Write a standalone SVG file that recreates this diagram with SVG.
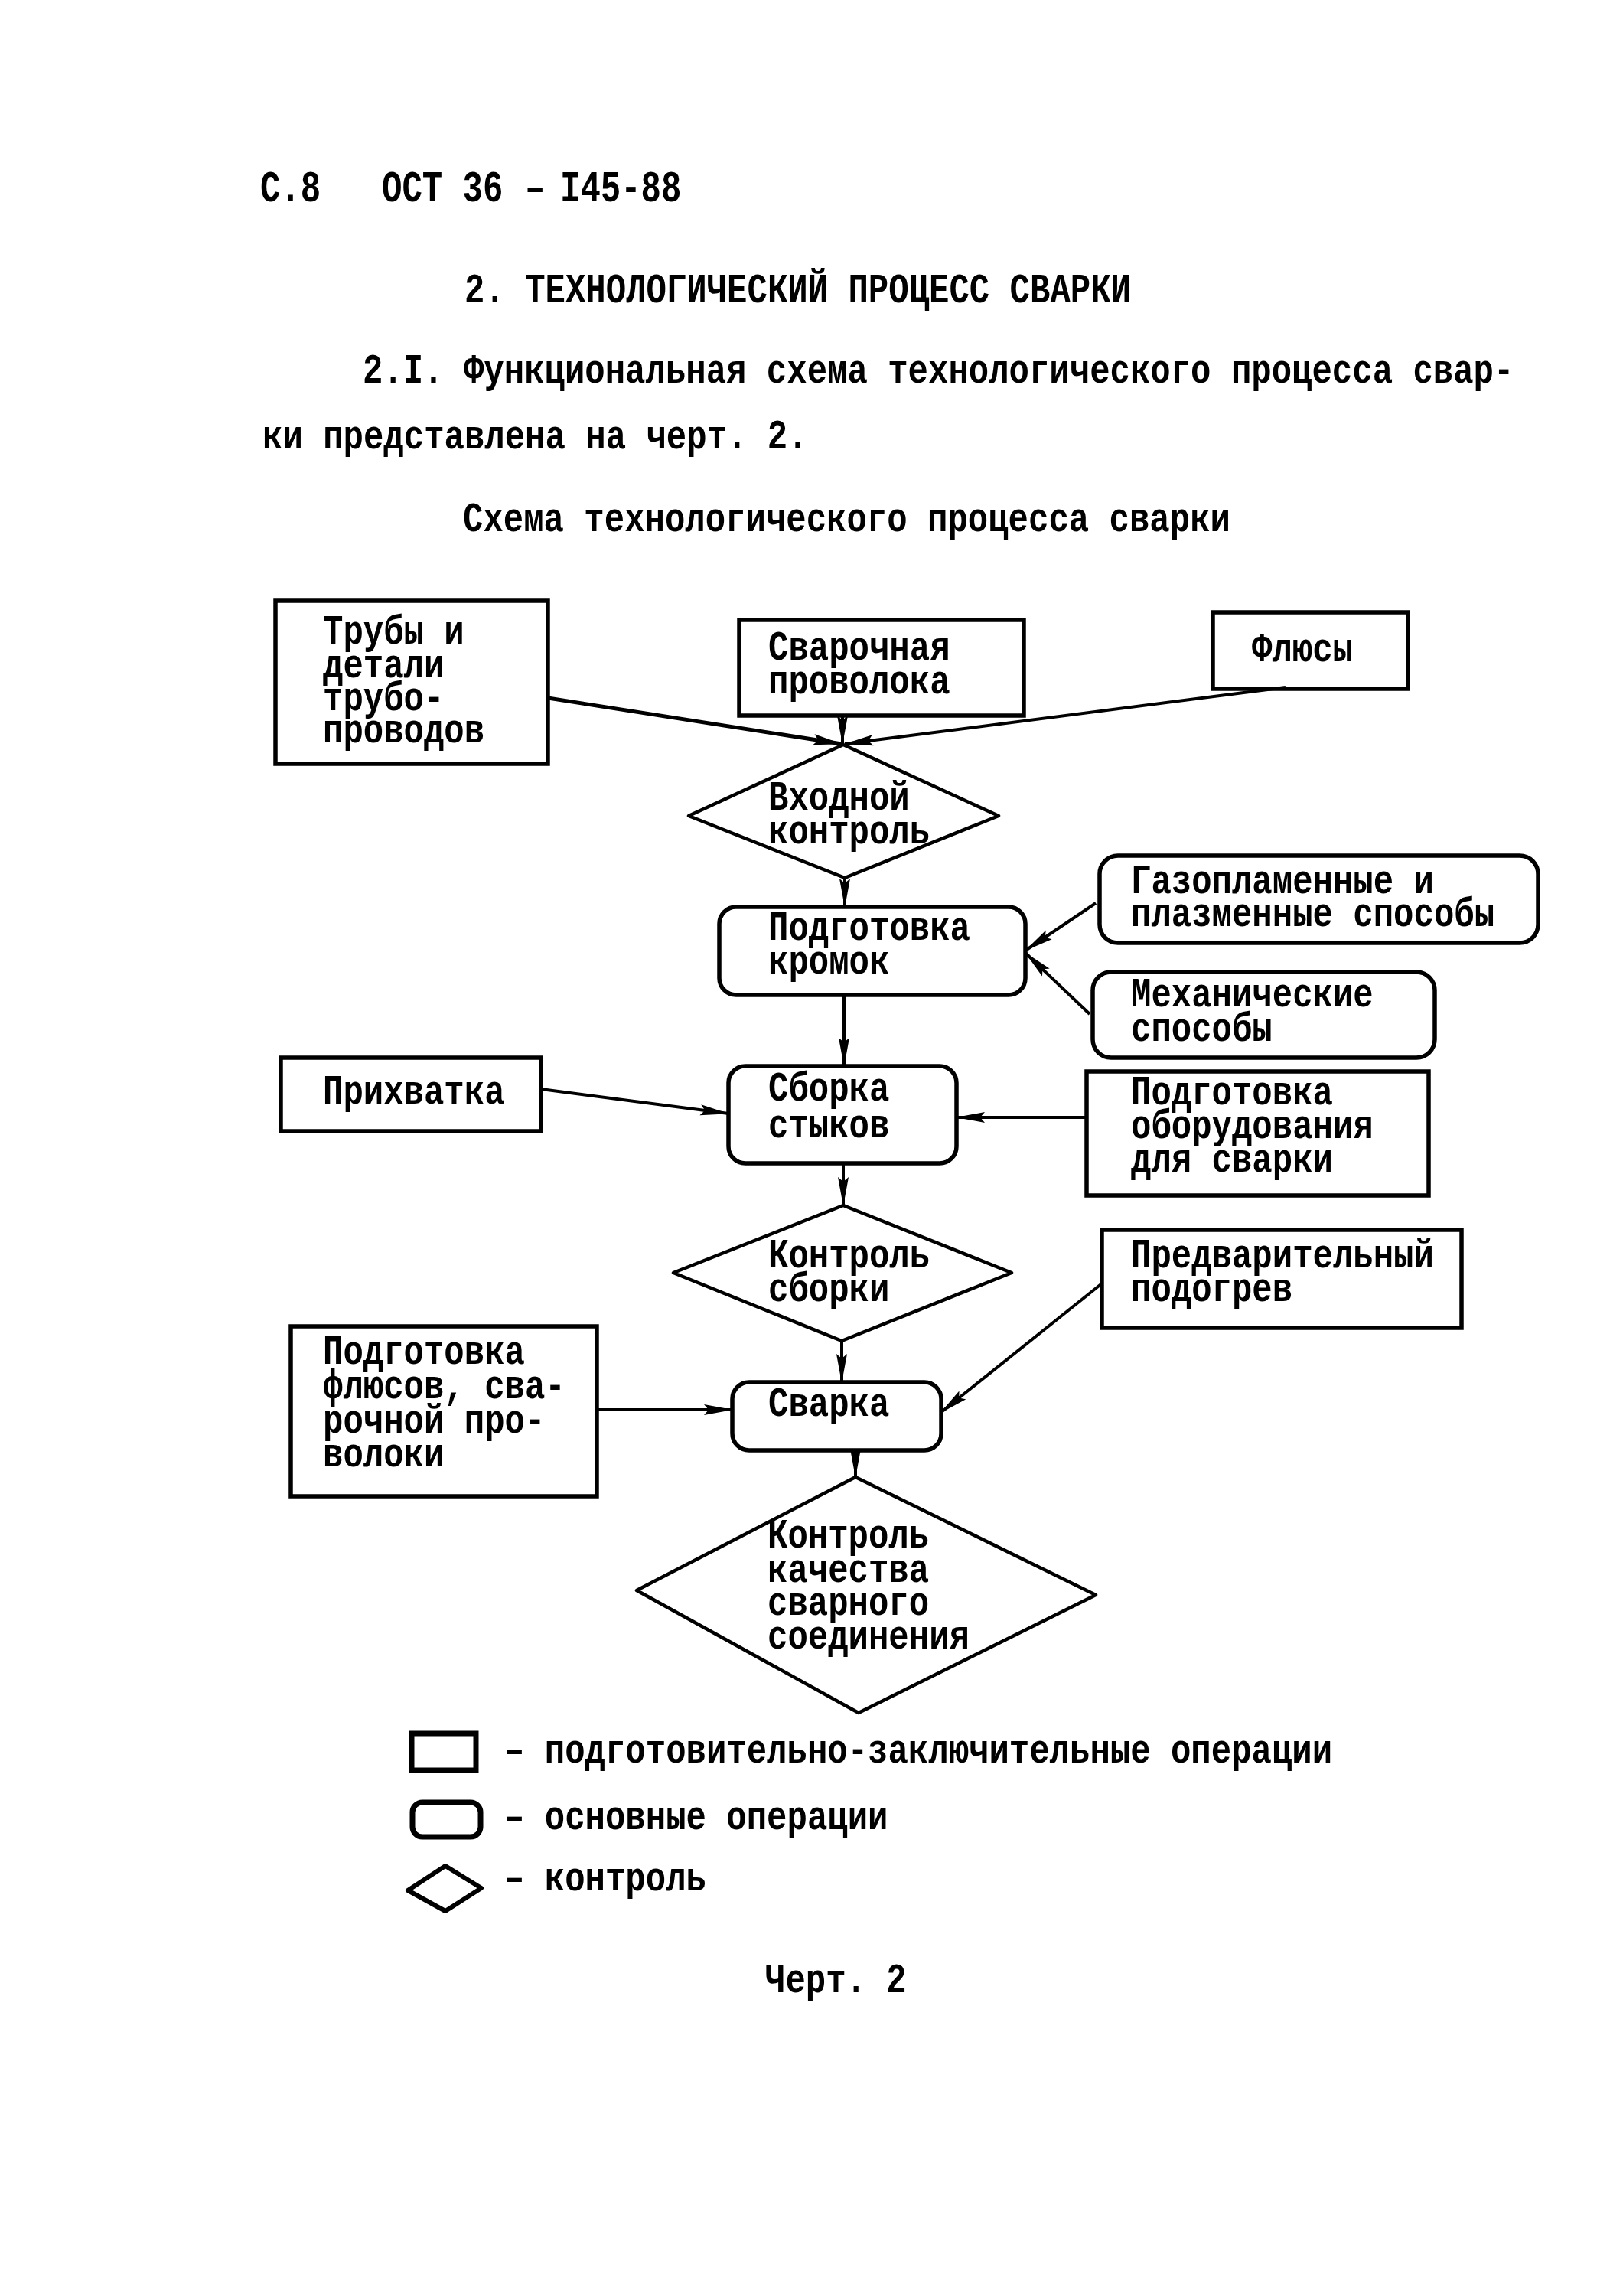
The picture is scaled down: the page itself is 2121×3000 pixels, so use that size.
<svg xmlns="http://www.w3.org/2000/svg" width="2121" height="3000" viewBox="0 0 2121 3000">
<style>
.t{font-family:"Liberation Mono","DejaVu Sans Mono",monospace;font-size:44px;font-weight:bold;fill:#000}
.box{fill:#fff;stroke:#000;stroke-width:5.5}
.dia{fill:#fff;stroke:#000;stroke-width:4.5;stroke-linejoin:round}
.con{stroke:#000;stroke-width:4;fill:none;marker-end:url(#ah)}
</style>
<defs>
<marker id="ah" markerUnits="userSpaceOnUse" markerWidth="38" markerHeight="16" refX="37" refY="8" orient="auto">
<path d="M0,1 L38,8 L0,15 L6,8 z" fill="#000"/>
</marker>
</defs>
<rect width="2121" height="3000" fill="#fff"/>

<g id="page-text">
<text class="t" transform="translate(340,263) scale(1,1.3)">С.8</text>
<text class="t" transform="translate(499,263) scale(1,1.3)">ОСТ 36</text>
<text class="t" transform="translate(686,263) scale(1,1.3)">–</text>
<text class="t" transform="translate(732,263) scale(1,1.3)">I45-88</text>
<text class="t" transform="translate(607,395) scale(1,1.2)">2. ТЕХНОЛОГИЧЕСКИЙ ПРОЦЕСС СВАРКИ</text>
<text class="t" transform="translate(474,500) scale(1,1.2)">2.I. Функциональная схема технологического процесса свар-</text>
<text class="t" transform="translate(343,586) scale(1,1.2)">ки представлена на черт. 2.</text>
<text class="t" transform="translate(605,694) scale(1,1.2)">Схема технологического процесса сварки</text>
<text class="t" transform="translate(1000,2603) scale(1,1.2)">Черт. 2</text>
</g>

<g id="n-truby">
<rect class="box" x="360" y="785" width="356" height="213"/>
<text class="t" transform="translate(422,841) scale(1,1.2)">Трубы и</text>
<text class="t" transform="translate(422,885) scale(1,1.2)">детали</text>
<text class="t" transform="translate(422,928) scale(1,1.2)">трубо-</text>
<text class="t" transform="translate(422,970) scale(1,1.2)">проводов</text>
</g>

<g id="n-provoloka">
<rect class="box" x="966" y="810" width="372" height="125"/>
<text class="t" transform="translate(1004,862) scale(1,1.2)">Сварочная</text>
<text class="t" transform="translate(1004,906) scale(1,1.2)">проволока</text>
</g>

<g id="n-flyusy">
<rect class="box" x="1585" y="800" width="255" height="100"/>
<text class="t" transform="translate(1636,864) scale(1,1.2)">Флюсы</text>
</g>

<g id="n-vhodnoy">
<polygon class="dia" points="1102,973 1305,1066 1104,1147 900,1066"/>
<text class="t" transform="translate(1004,1058) scale(1,1.2)">Входной</text>
<text class="t" transform="translate(1004,1102) scale(1,1.2)">контроль</text>
</g>

<g id="n-kromki">
<rect class="box" x="940" y="1185" width="400" height="115" rx="22"/>
<text class="t" transform="translate(1004,1228) scale(1,1.2)">Подготовка</text>
<text class="t" transform="translate(1004,1272) scale(1,1.2)">кромок</text>
</g>

<g id="n-gaz">
<rect class="box" x="1437" y="1118" width="573" height="114" rx="24"/>
<text class="t" transform="translate(1478,1167) scale(1,1.2)">Газопламенные и</text>
<text class="t" transform="translate(1478,1210) scale(1,1.2)">плазменные способы</text>
</g>

<g id="n-meh">
<rect class="box" x="1428" y="1270" width="447" height="112" rx="24"/>
<text class="t" transform="translate(1478,1315) scale(1,1.2)">Механические</text>
<text class="t" transform="translate(1478,1360) scale(1,1.2)">способы</text>
</g>

<g id="n-prihvatka">
<rect class="box" x="367" y="1382" width="340" height="96"/>
<text class="t" transform="translate(422,1442) scale(1,1.2)">Прихватка</text>
</g>

<g id="n-sborka">
<rect class="box" x="952" y="1393" width="298" height="127" rx="22"/>
<text class="t" transform="translate(1004,1438) scale(1,1.2)">Сборка</text>
<text class="t" transform="translate(1004,1486) scale(1,1.2)">стыков</text>
</g>

<g id="n-oborud">
<rect class="box" x="1420" y="1400" width="447" height="162"/>
<text class="t" transform="translate(1478,1443) scale(1,1.2)">Подготовка</text>
<text class="t" transform="translate(1478,1487) scale(1,1.2)">оборудования</text>
<text class="t" transform="translate(1478,1531) scale(1,1.2)">для сварки</text>
</g>

<g id="n-kontrol-sborki">
<polygon class="dia" points="1102,1575 1322,1663 1100,1752 880,1663"/>
<text class="t" transform="translate(1004,1656) scale(1,1.2)">Контроль</text>
<text class="t" transform="translate(1004,1700) scale(1,1.2)">сборки</text>
</g>

<g id="n-podogrev">
<rect class="box" x="1440" y="1607" width="470" height="128"/>
<text class="t" transform="translate(1478,1656) scale(1,1.2)">Предварительный</text>
<text class="t" transform="translate(1478,1700) scale(1,1.2)">подогрев</text>
</g>

<g id="n-flyusy-prep">
<rect class="box" x="380" y="1733" width="400" height="222"/>
<text class="t" transform="translate(422,1782) scale(1,1.2)">Подготовка</text>
<text class="t" transform="translate(422,1827) scale(1,1.2)">флюсов, сва-</text>
<text class="t" transform="translate(422,1872) scale(1,1.2)">рочной про-</text>
<text class="t" transform="translate(422,1916) scale(1,1.2)">волоки</text>
</g>

<g id="n-svarka">
<rect class="box" x="957" y="1806" width="273" height="89" rx="22"/>
<text class="t" transform="translate(1004,1850) scale(1,1.2)">Сварка</text>
</g>

<g id="n-kontrol-kachestva">
<polygon class="dia" points="1118,1930 1432,2084 1122,2238 832,2078"/>
<text class="t" transform="translate(1003,2022) scale(1,1.2)">Контроль</text>
<text class="t" transform="translate(1003,2067) scale(1,1.2)">качества</text>
<text class="t" transform="translate(1003,2110) scale(1,1.2)">сварного</text>
<text class="t" transform="translate(1003,2154) scale(1,1.2)">соединения</text>
</g>

<g id="legend">
<rect x="538" y="2265" width="84" height="48" fill="#fff" stroke="#000" stroke-width="7"/>
<text class="t" transform="translate(659,2303) scale(1,1.2)">– подготовительно-заключительные операции</text>
<rect x="539" y="2355" width="89" height="45" rx="13" fill="#fff" stroke="#000" stroke-width="7"/>
<text class="t" transform="translate(659,2390) scale(1,1.2)">– основные операции</text>
<polygon points="533,2470 582,2438 629,2467 582,2497" fill="#fff" stroke="#000" stroke-width="6" stroke-linejoin="round"/>
<text class="t" transform="translate(659,2470) scale(1,1.2)">– контроль</text>
</g>

<g id="connectors">
<line class="con" x1="716" y1="912" x2="1100" y2="972" style="stroke-width:5"/>
<line class="con" x1="1101" y1="935" x2="1101" y2="972"/>
<line class="con" x1="1680" y1="898" x2="1104" y2="972"/>
<line class="con" x1="1104" y1="1147" x2="1104" y2="1185"/>
<line class="con" x1="1432" y1="1180" x2="1340" y2="1242"/>
<line class="con" x1="1424" y1="1325" x2="1340" y2="1245"/>
<line class="con" x1="1103" y1="1300" x2="1103" y2="1393"/>
<line class="con" x1="707" y1="1423" x2="952" y2="1455"/>
<line class="con" x1="1420" y1="1460" x2="1250" y2="1460"/>
<line class="con" x1="1102" y1="1520" x2="1102" y2="1575"/>
<line class="con" x1="1100" y1="1752" x2="1100" y2="1806"/>
<line class="con" x1="1440" y1="1677" x2="1229" y2="1846"/>
<line class="con" x1="780" y1="1842" x2="957" y2="1842"/>
<line class="con" x1="1118" y1="1895" x2="1118" y2="1930"/>
</g>
</svg>
